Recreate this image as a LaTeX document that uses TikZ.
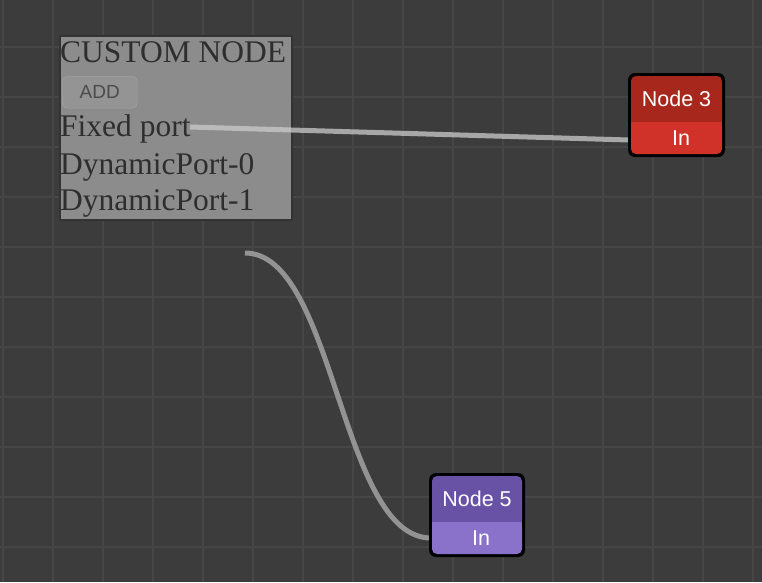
\documentclass[tikz,border=0pt]{standalone}
\usepackage{fontspec}
\setmainfont{Liberation Serif}
\newfontfamily\sansf{Liberation Sans}
\begin{document}
\begin{tikzpicture}[x=1pt,y=-1pt,
  txt/.style={anchor=base west,inner sep=0,font=\fontsize{31.5}{34}\selectfont,text=black!82},
  lbl/.style={font=\sansf\fontsize{21.5}{24}\selectfont,text=white,inner sep=0},
  link/.style={line width=5pt}]
\definecolor{bg}{HTML}{3C3C3C}
\definecolor{gridc}{HTML}{464646}
\definecolor{r1}{HTML}{A8271D}
\definecolor{r2}{HTML}{D0322A}
\definecolor{p1}{HTML}{6752A6}
\definecolor{p2}{HTML}{8A71C9}
\definecolor{boxc}{HTML}{8C8C8C}
\fill[bg] (0,0) rectangle (762,582);
\useasboundingbox (0,0) rectangle (762,582);
\foreach \x in {3,53,...,753} \draw[gridc,line width=1.5pt] (\x,0) -- (\x,582);
\foreach \y in {47,97,...,582} \draw[gridc,line width=1.5pt] (0,\y) -- (762,\y);
% custom node
\node[draw=black!80,line width=2pt,fill=boxc,minimum width=232,minimum height=184,anchor=north west,inner sep=0] (cn) at (59,35) {};
\node[txt] (t1) at (60,62) {CUSTOM NODE};
\node[draw=black!35,fill=black!42,rounded corners=5pt,minimum width=75,minimum height=32,inner sep=0,font=\sansf\fontsize{19}{21}\selectfont,text=black!70,anchor=north west] (add) at (62,76) {ADD};
\node[txt] (t2) at (60,136) {Fixed port};
\node[txt] (t3) at (60,174) {DynamicPort-0};
\node[txt] (t4) at (60,210) {DynamicPort-1};
\coordinate (p0) at (190,127);
\coordinate (p1c) at (245,253);
% links
\draw[link,draw=white!80!black,opacity=0.75] (p0) -- (629,140) coordinate (n3in);
\draw[link,draw=gray!85] (p1c) .. controls (335,253) and (340,538) .. (431,538) coordinate (n5in);
% node 3
\path[fill=black,rounded corners=7pt] (628,73) rectangle (725,157);
\path[fill=r1,rounded corners=5pt] (631,76) rectangle (722,126);
\fill[r1] (631,110) rectangle (722,122);
\path[fill=r2,rounded corners=5pt] (631,122) rectangle (722,154);
\fill[r2] (631,122) rectangle (722,135);
\node[lbl] (n3) at (676.5,99) {Node 3};
\node[lbl] (n3p) at (681,138) {In};
% node 5
\path[fill=black,rounded corners=7pt] (429,473) rectangle (525,557);
\path[fill=p1,rounded corners=5pt] (432,476) rectangle (522,525);
\fill[p1] (432,510) rectangle (522,522);
\path[fill=p2,rounded corners=5pt] (432,522) rectangle (522,554);
\fill[p2] (432,522) rectangle (522,535);
\node[lbl] (n5) at (477,499) {Node 5};
\node[lbl] (n5p) at (481,538) {In};
\end{tikzpicture}
\end{document}
